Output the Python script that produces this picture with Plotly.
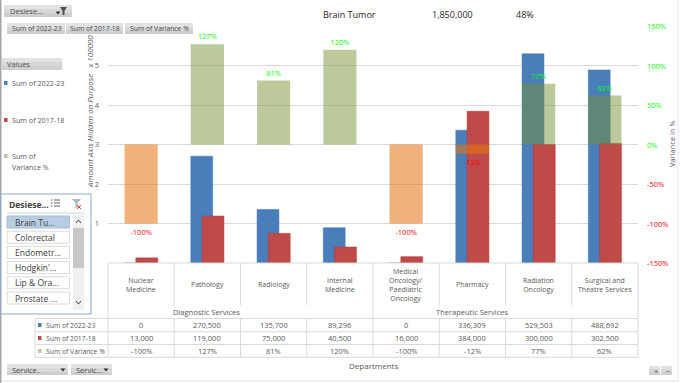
import plotly.graph_objects as go

W, H = 680, 383
departments = ["Nuclear Medicine", "Pathology", "Radiology", "Internal Medicine",
               "Medical Oncology/ Paediatric Oncology", "Pharmacy", "Radiation Oncology",
               "Surgical and Theatre Services"]
dept_labels = ["Nuclear<br>Medicine", "Pathology", "Radiology", "Internal<br>Medicine",
               "Medical<br>Oncology/<br>Paediatric<br>Oncology", "Pharmacy", "Radiation<br>Oncology",
               "Surgical and<br>Theatre Services"]
sum_2022_23 = [0, 270500, 135700, 89296, 0, 336309, 529503, 488692]
sum_2017_18 = [13000, 119000, 75000, 40500, 16000, 384000, 300000, 302500]
variance_pct = [-100, 127, 81, 120, -100, -12, 77, 62]
right_ticks = [150, 100, 50, 0, -50, -100, -150]
left_ticks = [1, 2, 3, 4, 5]
diseases = ["Brain Tu...", "Colorectal", "Endometr...", "Hodgkin'...", "Lip & Ora...", "Prostate ..."]
FONT = "Open Sans"
GREY = "#595959"
BLUE, RED = "#4A7EBB", "#BE4B48"
LINE = "#D9D9D9"

def X(p): return p / W
def Y(p): return 1 - p / H

shapes, notes = [], []

def rect(x0, y0, x1, y1, fill="rgba(0,0,0,0)", line=None, lw=1, layer="above"):
    shapes.append(dict(type="rect", xref="paper", yref="paper", x0=X(x0), x1=X(x1), y0=Y(y0), y1=Y(y1),
                       fillcolor=fill, line=dict(color=line or "rgba(0,0,0,0)", width=lw if line else 0), layer=layer))

def seg(x0, y0, x1, y1, color=LINE, lw=1):
    shapes.append(dict(type="line", xref="paper", yref="paper", x0=X(x0), x1=X(x1), y0=Y(y0), y1=Y(y1),
                       line=dict(color=color, width=lw), layer="above"))

def poly(pts, fill="#404040"):
    path = "M " + " L ".join(f"{X(a):.5f},{Y(b):.5f}" for a, b in pts) + " Z"
    shapes.append(dict(type="path", xref="paper", yref="paper", path=path, fillcolor=fill,
                       line=dict(width=0), layer="above"))

def text(x, y, s, size=7.5, color=GREY, anchor="center", angle=0, bold=False, italic=False, xref="paper"):
    if bold: s = f"<b>{s}</b>"
    if italic: s = f"<i>{s}</i>"
    notes.append(dict(x=x if xref != "paper" else X(x), y=Y(y), xref=xref, yref="paper", text=s, showarrow=False,
                      xanchor=anchor, yanchor="middle", textangle=angle,
                      font=dict(family=FONT, size=size, color=color), align="center"))

def button(x0, y0, x1, y1, label, tx=None, size=6.8):
    h = (y1 - y0) / 3
    for i, c in enumerate(["#E2E2E2", "#D8D8D8", "#CECECE"]):
        rect(x0, y0 + i * h, x1, y0 + (i + 1) * h, fill=c)
    text(x0 + 3 if tx is None else tx, (y0 + y1) / 2, label, size=size, color="#4D4D4D", anchor="left")

def drop(x, y):
    poly([(x - 2.5, y - 1.5), (x + 2.5, y - 1.5), (x, y + 1.5)], "#303030")

# window edges
rect(0, 0, 1.5, H, fill="#A6A6A6")
seg(1, 381, 678, 381, "#E0E0E0")
seg(678, 0, 678, 381, "#E8E8E8")

# field buttons
button(4, 5, 72, 17, "Desiese...", tx=8, size=7.5)
drop(58, 13)
poly([(60, 7), (67, 7), (64.5, 11), (64.5, 15), (62.5, 15), (62.5, 11)], "#505050")
button(7, 23, 65, 34, "Sum of 2022-23", tx=10)
button(66, 23, 123, 34, "Sum of 2017-18", tx=68)
button(125, 23, 193, 34, "Sum of Variance %", tx=128)
button(2, 58, 62, 70, "Values", tx=5, size=7.5)
button(7, 364, 68, 375, "Service..", tx=10, size=7.5)
drop(63, 370)
button(71, 364, 112, 375, "Servic...", tx=74, size=7.5)
drop(106, 370)
button(649, 366, 660, 375, "+", tx=652, size=7.5)
button(661, 366, 672, 375, "−", tx=664, size=7.5)

# legend
for y, c, lab in [(83, BLUE, "Sum of 2022-23"), (120, RED, "Sum of 2017-18"), (156, "#BCC99B", "Sum of")]:
    rect(4, y - 2, 7.5, y + 2, fill=c)
    text(10, y, lab, size=7.2, color=GREY, anchor="left")
text(10, 167, "Variance %", size=7.2, color=GREY, anchor="left")

# slicer
rect(1, 194, 91, 314, fill="#FFFFFF", line="#8DA9CF")
text(7, 204, "Desiese...", size=8.5, color="#404040", anchor="left", bold=True)
for i in range(3):
    seg(54, 200 + i * 3, 60, 200 + i * 3, "#606060")
    seg(51, 200 + i * 3, 52.5, 200 + i * 3, "#606060")
poly([(72, 199), (81, 199), (77.5, 203), (77.5, 208), (75.5, 208), (75.5, 203)], "#B0B8C4")
seg(77, 205, 81, 209, "#E04040")
seg(81, 205, 77, 209, "#E04040")
seg(7, 213, 85, 213, "#C9D6E6")
for i, d in enumerate(diseases):
    yc = 222 + i * 15.2
    rect(7, yc - 6, 69.5, yc + 6, fill="#B8CCE4" if i == 0 else "#FFFFFF", line="#A9BCD6" if i == 0 else "#DADADA")
    text(13, yc, d, size=8.5, color="#404040", anchor="left")
rect(73, 215, 84, 310, fill="#F0F0F0")
rect(73, 228, 84, 268, fill="#C8C8C8")
seg(76, 223, 78.5, 220, "#404040"); seg(78.5, 220, 81, 223, "#404040")
seg(76, 301, 78.5, 304, "#404040"); seg(78.5, 304, 81, 301, "#404040")

# headline row
text(350, 15, "Brain Tumor", size=9, color="#262626")
text(452, 15, "1,850,000", size=9, color="#262626")
text(525, 15, "48%", size=9, color="#262626")

# axis titles and tick labels
text(89, 112, "Amount Axis Hidden on Purpose&nbsp;&nbsp;&nbsp;x 100000", size=8, color=GREY, angle=-90, italic=True)
text(672, 144, "Variance in %", size=7.5, color=GREY, angle=-90)
for t in right_ticks:
    notes.append(dict(x=X(645), y=t, xref="paper", yref="y2", text=f"{t}%", showarrow=False, xanchor="left",
                      yanchor="middle", font=dict(family=FONT, size=7.5, color="#00FF00" if t >= 0 else "#FF0000")))

# table
L, R = 108, 638
cell = (R - L) / 8
seg(L, 263, R, 263)
for i in range(9):
    xp = L + i * cell
    full = i in (0, 4, 8)
    seg(xp, 263, xp, 318.5 if full else 305)
    seg(xp, 318.5, xp, 357.3)
seg(35, 318.5, 35, 357.3)
for y in (318.5, 331.7, 344.5, 357.3):
    seg(35, y, R, y)
text(207, 312, "Diagnostic Services")
text(472, 312, "Therapeutic Services")
text(373, 365, "Departments", size=8)
rows = [(325, BLUE, "Sum of 2022-23", [f"{v:,}" for v in sum_2022_23]),
        (338, RED, "Sum of 2017-18", [f"{v:,}" for v in sum_2017_18]),
        (351, "#BCC99B", "Sum of Variance %", [f"{v}%" for v in variance_pct])]
for y, c, lab, vals in rows:
    rect(38, y - 2, 41.5, y + 2, fill=c)
    text(44, y, lab, size=6.8, anchor="left")
    for i, v in enumerate(vals):
        text(i, y, v, xref="x")
for i, lab in enumerate(dept_labels):
    text(i, 284.5, lab, xref="x", size=7)

fig = go.Figure()
common = dict(x=departments, hoverinfo="skip")
fig.add_trace(go.Bar(y=sum_2022_23, name="Sum of 2022-23", width=0.33, offset=-0.25,
                     marker=dict(color=BLUE, line=dict(color="#3F74B5", width=0.5)), **common))
fig.add_trace(go.Bar(y=sum_2017_18, name="Sum of 2017-18", width=0.33, offset=-0.08,
                     marker=dict(color=RED, line=dict(color="#C0302C", width=0.5)), **common))
fig.add_trace(go.Bar(y=variance_pct, name="Sum of Variance %", yaxis="y2", width=0.5, offset=-0.25,
                     marker=dict(color=["rgba(118,145,51,0.49)" if v >= 0 else "rgba(228,118,18,0.56)" for v in variance_pct],
                                 line=dict(width=0)),
                     text=[f"{v}%" for v in variance_pct], textposition="outside", cliponaxis=False,
                     textfont=dict(family=FONT, size=7.5, color=["#00FF00" if v >= 0 else "#FF0000" for v in variance_pct]),
                     **common))
fig.update_layout(
    width=W, height=H, margin=dict(l=0, r=0, t=0, b=0), showlegend=False, barmode="overlay",
    paper_bgcolor="#FFFFFF", plot_bgcolor="#FFFFFF", font=dict(family=FONT, color=GREY),
    xaxis=dict(domain=[X(L), X(R)], type="category", range=[-0.5, 7.5], showticklabels=False, ticks="", showgrid=False,
               zeroline=False, showline=False),
    yaxis=dict(domain=[Y(263), Y(26)], range=[0, 600000], tickmode="array",
               tickvals=[v * 100000 for v in left_ticks], ticktext=[str(v) for v in left_ticks],
               tickfont=dict(family=FONT, size=7.5, color=GREY), showgrid=False, zeroline=False, showline=False, ticklen=0,
               ticklabelstandoff=8),
    yaxis2=dict(overlaying="y", side="right", range=[-150, 150], tickvals=right_ticks, showticklabels=False,
                gridcolor=LINE, gridwidth=1, zeroline=False, showline=False, ticks=""),
    shapes=shapes, annotations=notes, uniformtext=dict(mode=False),
)
fig.write_html("out.html", config=dict(displayModeBar=False),
               post_script="document.body.style.margin='0';document.body.style.overflow='hidden';")
